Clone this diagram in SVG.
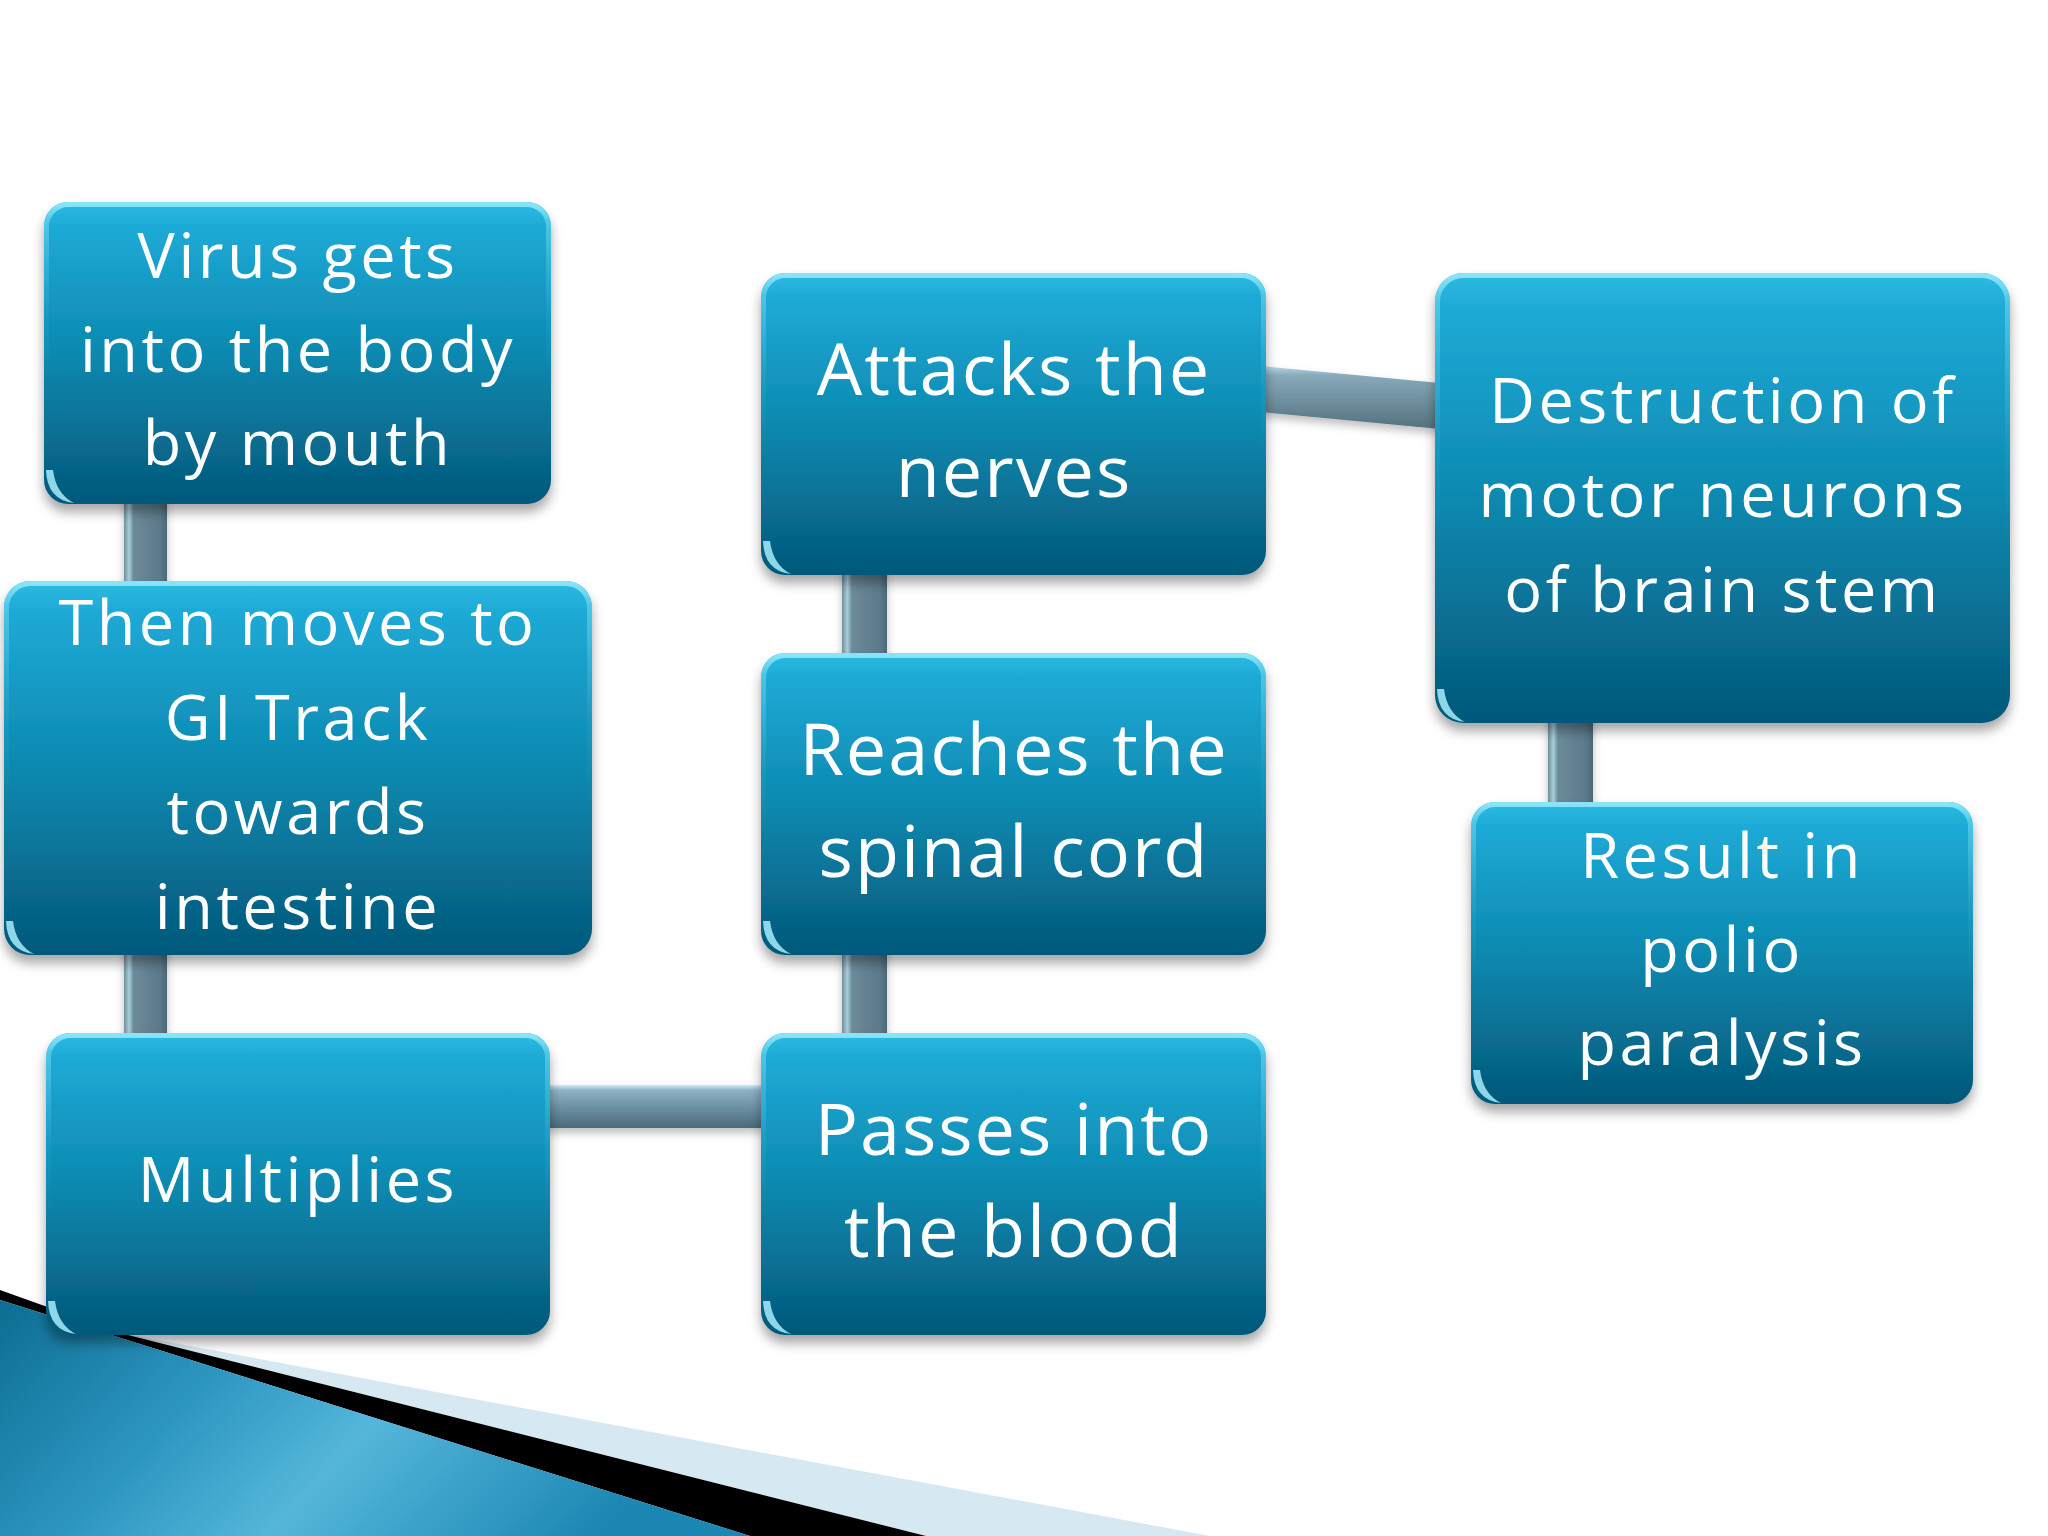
<svg xmlns="http://www.w3.org/2000/svg" xmlns:xlink="http://www.w3.org/1999/xlink" width="2048" height="1536" viewBox="0 0 2048 1536">
<defs>
<linearGradient id="boxG" x1="0" y1="0" x2="0" y2="1">
<stop offset="0" stop-color="#2cbbe2"/>
<stop offset="0.08" stop-color="#1eaad6"/>
<stop offset="0.5" stop-color="#0c89b0"/>
<stop offset="1" stop-color="#04587a"/>
</linearGradient>
<linearGradient id="rimG" x1="0" y1="0" x2="0" y2="1">
<stop offset="0" stop-color="#8ee6fa" stop-opacity="0.95"/>
<stop offset="0.06" stop-color="#6fd8f2" stop-opacity="0.6"/>
<stop offset="0.35" stop-color="#4cc4e6" stop-opacity="0.15"/>
<stop offset="0.6" stop-color="#4cc4e6" stop-opacity="0"/>
</linearGradient>
<linearGradient id="hG" x1="0" y1="0" x2="0" y2="1">
<stop offset="0" stop-color="#cdeef8"/>
<stop offset="0.12" stop-color="#8fb3c5"/>
<stop offset="0.55" stop-color="#6a8ea1"/>
<stop offset="1" stop-color="#4a6a7b"/>
</linearGradient>
<linearGradient id="vG" x1="0" y1="0" x2="1" y2="0">
<stop offset="0" stop-color="#6f8e9e"/>
<stop offset="0.12" stop-color="#a9cfdd"/>
<stop offset="0.22" stop-color="#6c8b9b"/>
<stop offset="0.85" stop-color="#5b798a"/>
<stop offset="1" stop-color="#4b6878"/>
</linearGradient>
<linearGradient id="sG" x1="0" y1="0" x2="0" y2="1">
<stop offset="0" stop-color="#b9d7e4"/>
<stop offset="0.15" stop-color="#88aabb"/>
<stop offset="1" stop-color="#53717f"/>
</linearGradient>
<linearGradient id="triG" x1="0" y1="0" x2="1" y2="0.3">
<stop offset="0" stop-color="#0d6d92"/>
<stop offset="0.35" stop-color="#2d96c0"/>
<stop offset="0.6" stop-color="#55b6da"/>
<stop offset="1" stop-color="#1c87b3"/>
</linearGradient>
<filter id="shadow" x="-10%" y="-10%" width="120%" height="125%">
<feDropShadow dx="0" dy="8" stdDeviation="6" flood-color="#000" flood-opacity="0.35"/>
</filter>
<filter id="cshadow" x="-20%" y="-20%" width="140%" height="160%">
<feDropShadow dx="0" dy="5" stdDeviation="4" flood-color="#000" flood-opacity="0.25"/>
</filter>
<path id="gl" d="M2,-34 Q3,-4 30,-1 Q12,-10 9,-34 Z" fill="#a6ecfb" opacity="0.85"/>
</defs>
<style>
.box{fill:url(#boxG);filter:url(#shadow)}
.rim{fill:none;stroke:url(#rimG);stroke-width:5}
.t{font-family:"Open Sans","Noto Sans","Liberation Sans",sans-serif;fill:#ffffff;text-anchor:middle}
.s{font-size:63px;letter-spacing:3.5px}
.l{font-size:72px;letter-spacing:2px}
</style>
<rect width="2048" height="1536" fill="#ffffff"/>

<g id="background-stripes">
<polygon points="120,1333 1210,1536 926,1536" fill="#d6e8f1"/>
<polygon points="0,1290 120,1333 926,1536 750,1536 0,1300" fill="#000000"/>
<polygon points="0,1300 750,1536 0,1536" fill="url(#triG)"/>
</g>

<g id="connectors">
<rect x="124" y="495" width="43" height="95" fill="url(#vG)" filter="url(#cshadow)"/>
<rect x="124" y="945" width="43" height="95" fill="url(#vG)" filter="url(#cshadow)"/>
<rect x="545" y="1085" width="221" height="43" fill="url(#hG)" filter="url(#cshadow)"/>
<rect x="842" y="945" width="45" height="95" fill="url(#vG)" filter="url(#cshadow)"/>
<rect x="842" y="565" width="45" height="95" fill="url(#vG)" filter="url(#cshadow)"/>
<polygon points="1260,366 1440,383 1440,429 1260,412" fill="url(#sG)" filter="url(#cshadow)"/>
<rect x="1548" y="715" width="45" height="95" fill="url(#vG)" filter="url(#cshadow)"/>
</g>

<g id="node1">
<rect class="box" x="44" y="202" width="507" height="302" rx="24"/>
<rect class="rim" x="46.5" y="204.5" width="502" height="297" rx="22"/>
<use xlink:href="#gl" x="44" y="504"/>
<text class="t s" x="298" y="278">Virus gets</text>
<text class="t s" x="298" y="372">into the body</text>
<text class="t s" x="298" y="465">by mouth</text>
</g>

<g id="node2">
<rect class="box" x="4" y="581" width="588" height="374" rx="26"/>
<rect class="rim" x="6.5" y="583.5" width="583" height="369" rx="24"/>
<use xlink:href="#gl" x="4" y="955"/>
<text class="t s" x="298" y="645">Then moves to</text>
<text class="t s" x="298" y="740">GI Track</text>
<text class="t s" x="298" y="834">towards</text>
<text class="t s" x="298" y="929">intestine</text>
</g>

<g id="node3">
<rect class="box" x="46" y="1033" width="504" height="302" rx="24"/>
<rect class="rim" x="48.5" y="1035.5" width="499" height="297" rx="22"/>
<use xlink:href="#gl" x="46" y="1335"/>
<text class="t s" x="298" y="1202">Multiplies</text>
</g>

<g id="node4">
<rect class="box" x="761" y="1033" width="505" height="302" rx="24"/>
<rect class="rim" x="763.5" y="1035.5" width="500" height="297" rx="22"/>
<use xlink:href="#gl" x="761" y="1335"/>
<text class="t l" x="1014" y="1155">Passes into</text>
<text class="t l" x="1014" y="1257">the blood</text>
</g>

<g id="node5">
<rect class="box" x="761" y="653" width="505" height="302" rx="24"/>
<rect class="rim" x="763.5" y="655.5" width="500" height="297" rx="22"/>
<use xlink:href="#gl" x="761" y="955"/>
<text class="t l" x="1014" y="775">Reaches the</text>
<text class="t l" x="1014" y="877">spinal cord</text>
</g>

<g id="node6">
<rect class="box" x="761" y="273" width="505" height="302" rx="24"/>
<rect class="rim" x="763.5" y="275.5" width="500" height="297" rx="22"/>
<use xlink:href="#gl" x="761" y="575"/>
<text class="t l" x="1014" y="395">Attacks the</text>
<text class="t l" x="1014" y="497">nerves</text>
</g>

<g id="node7">
<rect class="box" x="1435" y="273" width="575" height="450" rx="28"/>
<rect class="rim" x="1437.5" y="275.5" width="570" height="445" rx="26"/>
<use xlink:href="#gl" x="1435" y="723"/>
<text class="t s" x="1723" y="423">Destruction of</text>
<text class="t s" x="1723" y="517">motor neurons</text>
<text class="t s" x="1723" y="612">of brain stem</text>
</g>

<g id="node8">
<rect class="box" x="1471" y="802" width="502" height="302" rx="24"/>
<rect class="rim" x="1473.5" y="804.5" width="497" height="297" rx="22"/>
<use xlink:href="#gl" x="1471" y="1104"/>
<text class="t s" x="1722" y="878">Result in</text>
<text class="t s" x="1722" y="972">polio</text>
<text class="t s" x="1722" y="1065">paralysis</text>
</g>
</svg>
